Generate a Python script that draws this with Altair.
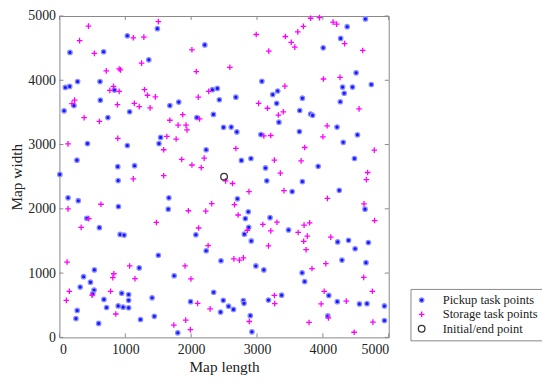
import altair as alt
import pandas as pd

# ---- data ----
pickup_x = [1487, 1031, 160, 671, 1357, 276, 616, 90, 156, 836, 621, 221, 71, 1066, 736,
            2207, 3074, 2323, 2398, 2428, 2679, 1812, 1677, 3239, 2087, 2338,
            4646, 4369, 4270, 4005, 4505, 4736, 4300, 4450, 4324, 3314, 3689, 3299, 4264, 3649, 3814, 3844, 3333,
            426, 1031, 1537, 1512, 266, 886, 1141, 6, 892, 131, 286, 896, 416, 607,
            2492, 2608, 2694, 3059, 2228, 2763, 2908, 3129, 3149, 1662, 1652, 2703, 2868, 2823, 3198, 2874,
            3644, 4215, 4525, 4309, 4480, 3929, 3689, 3534, 4249, 4640, 3479,
            922, 982, 1502, 531, 1212, 366, 471, 315, 526, 506, 946, 1051, 676, 1051, 1407, 716, 892, 967, 1051,
            270, 251, 1441, 1231, 596,
            2072, 2808, 2913, 2228, 2453, 2983, 3104, 1742, 2342, 1992, 2488, 2793, 2803, 2568, 2643, 2447, 3174,
            2898, 1797, 2923,
            4225, 4390, 4691, 4490, 4290, 4655, 3685, 3724, 3374, 4090, 4219, 4555, 4670, 4075,
            4935, 4935]
pickup_y = [4803, 4692, 4434, 4444, 4318, 3979, 3979, 3888, 3904, 3848, 3691, 3606, 3525, 3510, 3419,
            4550, 3984, 3853, 3873, 3697, 3737, 3661, 3606, 3777, 3419, 3469,
            4954, 4833, 4651, 4505, 4116, 3934, 3894, 3894, 3798, 3833, 3722, 3641, 3666, 3530, 3474, 3454, 3348,
            3015, 2985, 3111, 3015, 2757, 2656, 2671, 2535, 2439, 2171, 2126, 2035, 1853, 1707,
            3268, 3272, 3197, 3156, 2919, 2753, 2783, 2636, 2435, 2171, 1995, 2156, 1954, 1848, 1863, 1712,
            3202, 3272, 3151, 3035, 2783, 2661, 2424, 2268, 2288, 1995, 1671,
            1601, 1591, 1278, 1050, 1081, 944, 859, 783, 737, 677, 687, 667, 591, 576, 616, 465, 490, 470, 460,
            419, 293, 328, 278, 217,
            1596, 1606, 1500, 1348, 1192, 1111, 1050, 959, 702, 556, 576, 571, 530, 485, 435, 394, 580,
            338, 71, 86,
            1485, 1510, 1475, 1379, 1202, 1162, 1005, 869, 657, 652, 556, 520, 525, 333,
            489, 262]

storage_x = [441, 1502, 306, 531, 1122, 1282, 1247, 711, 907, 927, 821, 766, 907, 1292, 1337, 1457, 231, 191,
             881, 1137, 1212, 1377, 375, 607,
             2988, 2012, 3179, 2078, 2588, 2267, 2108, 3024, 3159, 1872, 1677, 2128,
             3814, 3949, 4155, 4210, 3704, 3619, 3430, 3520, 3574, 4330, 4605, 4009, 4260, 3423, 4550, 3399, 3324,
             131, 886, 1583, 1122, 1583, 131, 631, 446, 330, 1472,
             1802, 1922, 1937, 1632, 1772, 2679, 3104, 3209, 1857, 2198, 2012, 2153, 2523, 2628, 2878, 2312, 2658,
             1958, 2222, 2713, 3089, 2113, 3209, 2853,
             4065, 4000, 3724, 4781, 3264, 3670, 3354, 4680, 4660, 3409, 4069, 4625, 4785, 3303, 3799, 3715, 3625,
             116, 1066, 826, 811, 1147, 150, 776, 496, 105, 856,
             2258, 3174, 2649, 2733, 2793, 1907, 1997, 2098, 2288, 1917, 1737, 1988, 2883,
             3764, 3709, 4120, 3745, 4045, 3835, 4620, 4020, 4751, 3264, 3269, 3974, 4355, 4084, 3790, 4760, 4475]
storage_y = [4843, 4913, 4616, 4419, 4661, 4671, 4267, 4146, 4176, 4161, 3904, 3843, 3828, 3853, 3767, 3742, 3691,
             3636, 3621, 3641, 3591, 3571, 3419, 3359,
             4712, 4474, 4454, 4136, 4202, 3828, 3737, 3641, 3565, 3464, 3378, 3398,
             4965, 4974, 4904, 4874, 4838, 4752, 4681, 4590, 4515, 4570, 4464, 4020, 4045, 3909, 3555, 3510, 3459,
             3010, 3096, 2919, 2465, 2515, 2000, 2071, 1848, 1712, 1788,
             3303, 3303, 3227, 3126, 3086, 2939, 3136, 3141, 2768, 2788, 2682, 2641, 2435, 2394, 2268, 2080, 2065,
             1970, 1965, 1904, 1757, 1702, 1656, 1667,
             3292, 3121, 2954, 2913, 2757, 2747, 2556, 2565, 2454, 2283, 2162, 2076, 1818, 1792, 1783, 1747, 1632,
             1172, 1111, 990, 929, 914, 717, 717, 657, 576, 364,
             1429, 1424, 1222, 1202, 1237, 1111, 909, 530, 444, 268, 192, 121, 247,
             1576, 1495, 1560, 1364, 1147, 1071, 934, 717, 717, 652, 525, 520, 565, 303, 232, 238, 80]

init_x = [2500]
init_y = [2500]

series_names = ["Pickup task points", "Storage task points", "Initial/end point"]
axis_ticks = [0, 1000, 2000, 3000, 4000, 5000]

rows = []
for x, y in zip(pickup_x, pickup_y):
    rows.append({"x": x, "y": y, "series": series_names[0]})
for x, y in zip(storage_x, storage_y):
    rows.append({"x": x, "y": y, "series": series_names[1]})
for x, y in zip(init_x, init_y):
    rows.append({"x": x, "y": y, "series": series_names[2]})
df = pd.DataFrame(rows)
xt_df = pd.DataFrame({"x": axis_ticks})
yt_df = pd.DataFrame({"y": axis_ticks})

W, H = 333, 325
FONT = "Liberation Serif"
xscale = alt.Scale(domain=[0, 5000], nice=False)
yscale = alt.Scale(domain=[0, 5000], nice=False)
x_axis = alt.Axis(title="Map length", values=axis_ticks, format="d", ticks=False, tickSize=0,
                  labelPadding=5, titlePadding=3)
y_axis = alt.Axis(title="Map width", values=axis_ticks, format="d", ticks=False, tickSize=0,
                  labelPadding=4, titlePadding=3)
plus_path = "M-1,0H1M0,-1V1"

leg = alt.Legend(title=None)
points = alt.Chart(df).mark_point(opacity=1, strokeWidth=1.3).encode(
    x=alt.X("x:Q", scale=xscale, axis=x_axis),
    y=alt.Y("y:Q", scale=yscale, axis=y_axis),
    shape=alt.Shape("series:N", scale=alt.Scale(domain=series_names,
                                                range=["circle", plus_path, "circle"]), legend=leg),
    fill=alt.Fill("series:N", scale=alt.Scale(domain=series_names,
                                              range=["#1414ff", "transparent", "transparent"]), legend=leg),
    stroke=alt.Stroke("series:N", scale=alt.Scale(domain=series_names,
                                                  range=["#8a8fff", "#ff00ff", "#333333"]), legend=leg),
    size=alt.Size("series:N", scale=alt.Scale(domain=series_names, range=[20, 45, 34]), legend=leg),
)

tick_bottom = alt.Chart(xt_df).mark_rule(color="#888888").encode(
    x=alt.X("x:Q", scale=xscale, axis=x_axis), y=alt.value(H), y2=alt.value(H - 4))
tick_top = alt.Chart(xt_df).mark_rule(color="#888888").encode(
    x=alt.X("x:Q", scale=xscale, axis=x_axis), y=alt.value(0), y2=alt.value(4))
tick_left = alt.Chart(yt_df).mark_rule(color="#888888").encode(
    y=alt.Y("y:Q", scale=yscale, axis=y_axis), x=alt.value(0), x2=alt.value(4))
tick_right = alt.Chart(yt_df).mark_rule(color="#888888").encode(
    y=alt.Y("y:Q", scale=yscale, axis=y_axis), x=alt.value(W), x2=alt.value(W - 4))

chart = alt.layer(tick_bottom, tick_top, tick_left, tick_right, points).properties(
    width=W, height=H,
    autosize=alt.AutoSizeParams(type="none"),
    padding={"left": 52, "top": 6, "right": 155, "bottom": 40},
).configure_view(
    stroke="#888888", strokeWidth=1
).configure_axis(
    domain=False, grid=False, labelFont=FONT, labelFontSize=14, labelColor="#222222",
    titleFont=FONT, titleFontSize=15.5, titleFontWeight="normal", titleColor="#222222"
).configure_legend(
    orient="none", legendX=355, legendY=276, strokeColor="#888888", fillColor="white",
    padding=5, labelFont=FONT, labelFontSize=12.6, labelColor="#222222", rowPadding=1.5,
    symbolStrokeWidth=1.3, labelOffset=15
)

chart.save("out.html", embed_options={"renderer": "svg", "actions": False})
